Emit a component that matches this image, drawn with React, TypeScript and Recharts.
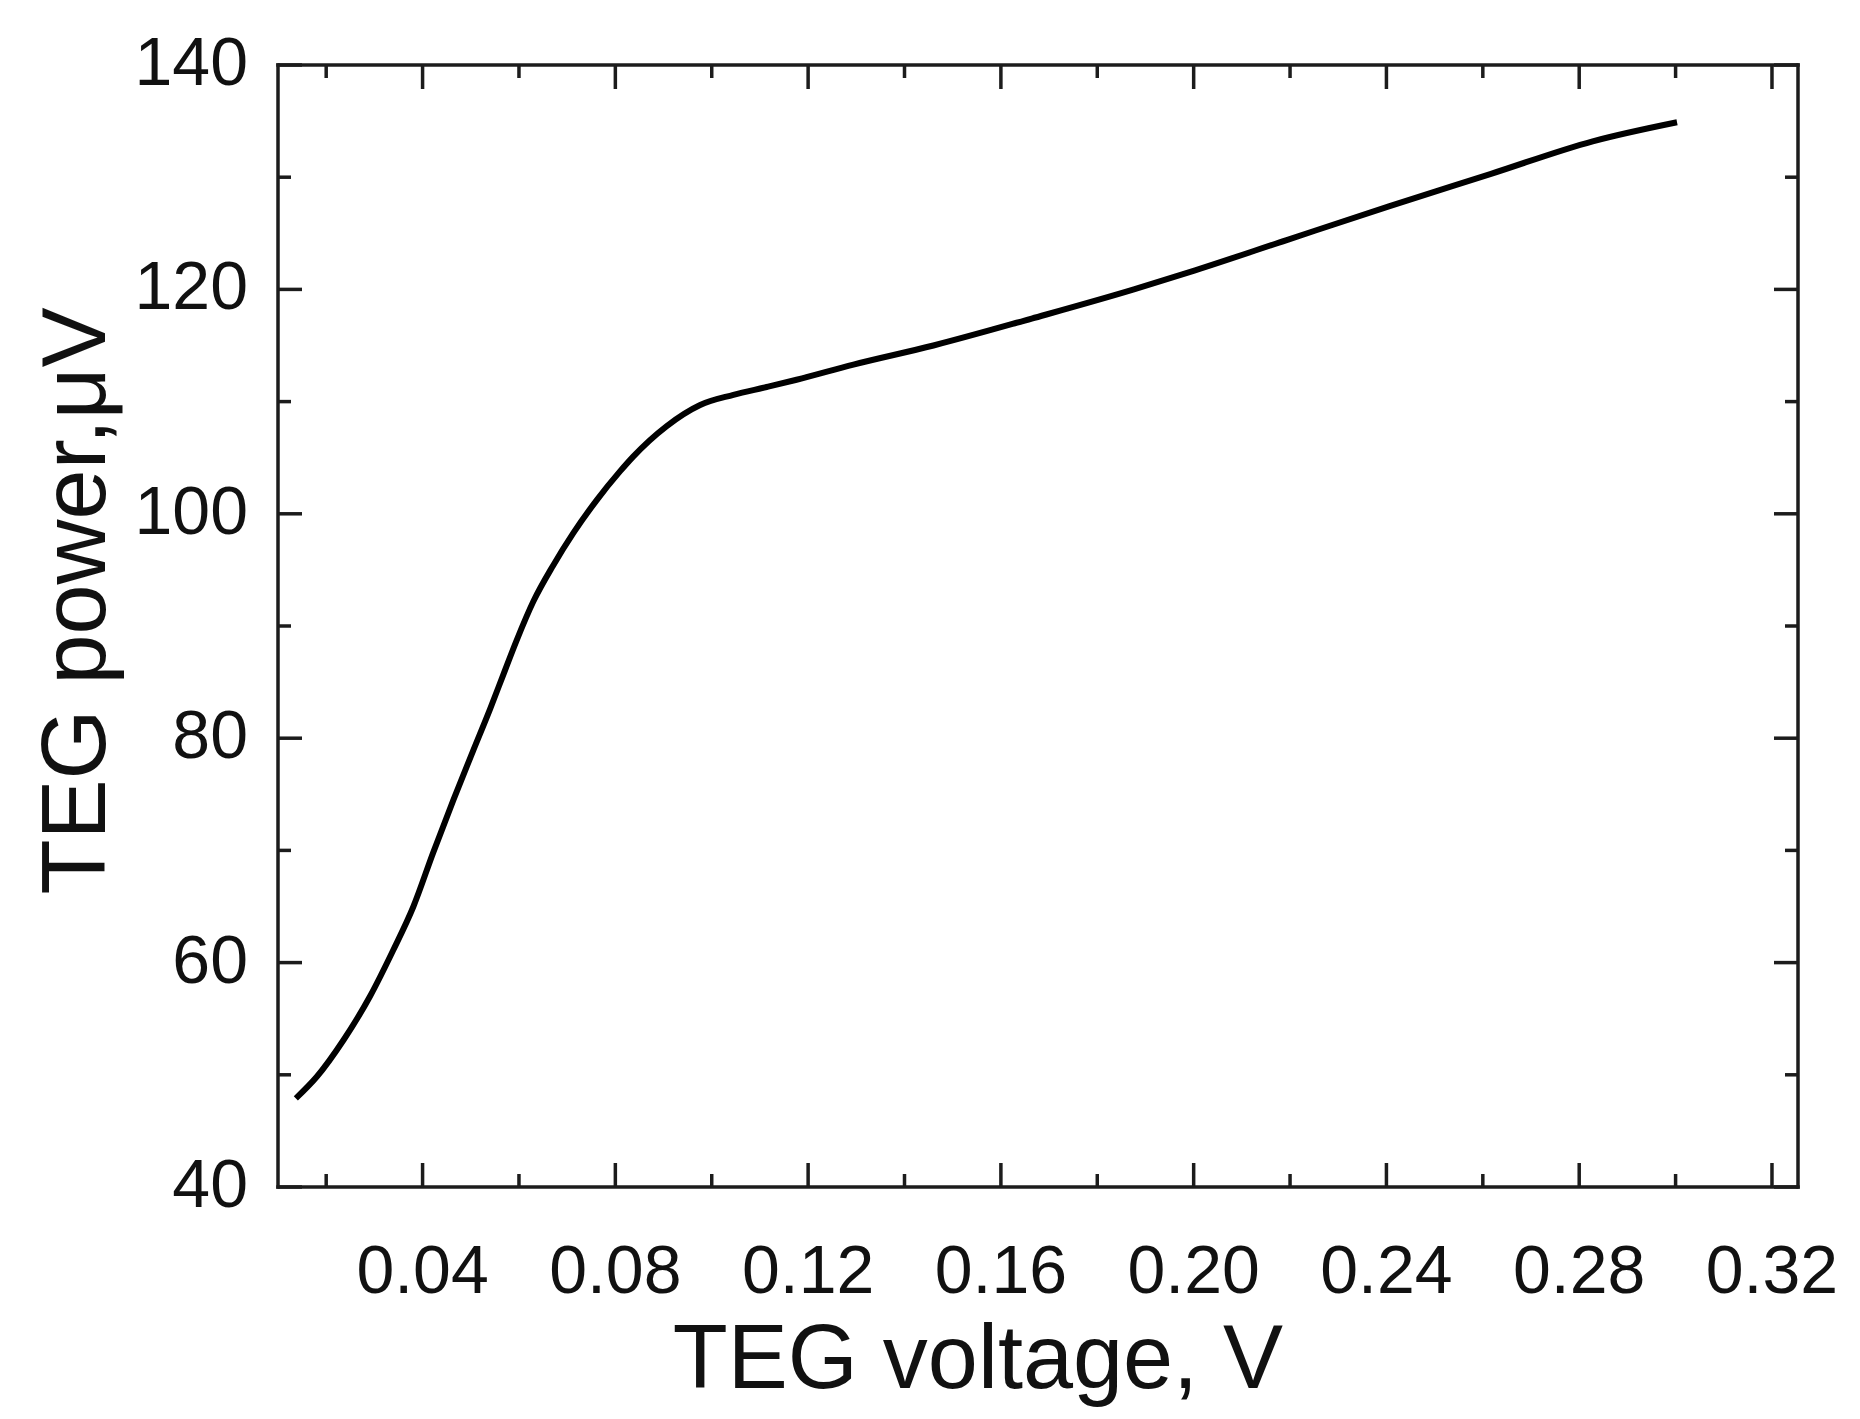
import React from 'react';
import { LineChart, Line, XAxis, YAxis } from 'recharts';

// TEG voltage (V)
const voltage = [
  0.0137, 0.018, 0.0236, 0.0291, 0.0339, 0.0381, 0.0422, 0.0464, 0.0505, 0.054,
  0.0567, 0.0595, 0.063, 0.0671, 0.0713, 0.0761, 0.081, 0.0837, 0.0906, 0.0976,
  0.1045, 0.1114, 0.1176, 0.1294, 0.146, 0.1664, 0.1876, 0.2003, 0.2193, 0.2405,
  0.2617, 0.2828, 0.3003,
];
// TEG power (µV as labelled)
const power = [
  47.9, 49.8, 53.1, 57.0, 61.1, 65.0, 69.8, 74.5, 78.9, 82.6,
  85.6, 88.7, 92.2, 95.4, 98.3, 101.2, 103.8, 105.1, 107.8, 109.7,
  110.6, 111.3, 111.95, 113.3, 115.0, 117.4, 120.0, 121.7, 124.4, 127.4,
  130.3, 133.2, 134.9,
];
const xTicks = [0.02, 0.04, 0.06, 0.08, 0.1, 0.12, 0.14, 0.16, 0.18, 0.2, 0.22, 0.24, 0.26, 0.28, 0.3, 0.32];
const yTicks = [40, 50, 60, 70, 80, 90, 100, 110, 120, 130, 140];
const xDomain = [0.01, 0.3254];
const yDomain = [40, 140];
const xTitle = 'TEG voltage, V';
const yTitle = 'TEG power,\u03BCV';

const data = voltage.map((v, i) => ({ v, p: power[i] }));

const FONT = '"Liberation Sans", Arial, Helvetica, sans-serif';
const AXIS_COLOR = '#1c1c1c';
const AXIS_W = 3.5;
const MAJOR = 24;
const MINOR = 13;
const TICK_FS = 68;
const TITLE_FS = 90;

const isMajorX = (v: number) => Math.round(v * 100) % 4 === 0;
const isMajorY = (v: number) => Math.round(v) % 20 === 0;

const BottomTick = (props: any) => {
  const { x, y, payload } = props;
  const major = isMajorX(payload.value);
  return (
    <g>
      <line x1={x} y1={y} x2={x} y2={y - (major ? MAJOR : MINOR)} stroke={AXIS_COLOR} strokeWidth={AXIS_W} />
      {major && (
        <text x={x} y={y + 106} textAnchor="middle" fontSize={TICK_FS} fontFamily={FONT} fill="#111">
          {Number(payload.value).toFixed(2)}
        </text>
      )}
    </g>
  );
};

const TopTick = (props: any) => {
  const { x, y, payload } = props;
  const major = isMajorX(payload.value);
  return <line x1={x} y1={y} x2={x} y2={y + (major ? MAJOR : MINOR)} stroke={AXIS_COLOR} strokeWidth={AXIS_W} />;
};

const LeftTick = (props: any) => {
  const { x, y, payload } = props;
  const major = isMajorY(payload.value);
  return (
    <g>
      <line x1={x} y1={y} x2={x + (major ? MAJOR : MINOR)} y2={y} stroke={AXIS_COLOR} strokeWidth={AXIS_W} />
      {major && (
        <text x={x - 30} y={y + 20} textAnchor="end" fontSize={TICK_FS} fontFamily={FONT} fill="#111">
          {payload.value}
        </text>
      )}
    </g>
  );
};

const RightTick = (props: any) => {
  const { x, y, payload } = props;
  const major = isMajorY(payload.value);
  return <line x1={x} y1={y} x2={x - (major ? MAJOR : MINOR)} y2={y} stroke={AXIS_COLOR} strokeWidth={AXIS_W} />;
};

const XTitle = (props: any) => {
  const vb = props.viewBox || { x: 278, y: 1187, width: 1520, height: 232 };
  return (
    <text x={vb.x + vb.width / 2 - 60} y={vb.y + 201} textAnchor="middle" fontSize={TITLE_FS} fontFamily={FONT} fill="#111">
      {xTitle}
    </text>
  );
};

const YTitle = (props: any) => {
  const vb = props.viewBox || { x: 78, y: 65, width: 200, height: 1122 };
  const cx = vb.x + 27;
  const cy = vb.y + vb.height / 2 - 25;
  return (
    <text x={cx} y={cy} transform={`rotate(-90, ${cx}, ${cy})`} textAnchor="middle" fontSize={TITLE_FS} fontFamily={FONT} fill="#111">
      {yTitle}
    </text>
  );
};

const axisLine = { stroke: AXIS_COLOR, strokeWidth: AXIS_W, strokeLinecap: 'square' as const };

export default function App() {
  return (
    <div style={{ position: 'absolute', left: 0, top: 0, width: 1860, height: 1419, background: '#fff' }}>
      <LineChart width={1860} height={1419} data={data} margin={{ top: 55, right: 52, bottom: 0, left: 78 }}>
        <XAxis
          xAxisId={0}
          dataKey="v"
          type="number"
          domain={xDomain}
          ticks={xTicks}
          interval={0}
          allowDataOverflow
          height={232}
          tickSize={0}
          tickMargin={0}
          tickLine={false}
          axisLine={axisLine}
          tick={<BottomTick />}
          label={<XTitle />}
        />
        <XAxis
          xAxisId="top"
          orientation="top"
          dataKey="v"
          type="number"
          domain={xDomain}
          ticks={xTicks}
          interval={0}
          allowDataOverflow
          height={10}
          tickSize={0}
          tickMargin={0}
          tickLine={false}
          axisLine={axisLine}
          tick={<TopTick />}
        />
        <YAxis
          yAxisId={0}
          type="number"
          domain={yDomain}
          ticks={yTicks}
          interval={0}
          allowDataOverflow
          width={200}
          tickSize={0}
          tickMargin={0}
          tickLine={false}
          axisLine={axisLine}
          tick={<LeftTick />}
          label={<YTitle />}
        />
        <YAxis
          yAxisId="right"
          orientation="right"
          type="number"
          domain={yDomain}
          ticks={yTicks}
          interval={0}
          allowDataOverflow
          width={10}
          tickSize={0}
          tickMargin={0}
          tickLine={false}
          axisLine={axisLine}
          tick={<RightTick />}
        />
        <Line
          xAxisId={0}
          yAxisId={0}
          dataKey="p"
          type="monotone"
          stroke="#000"
          strokeWidth={6}
          dot={false}
          activeDot={false}
          isAnimationActive={false}
        />
      </LineChart>
    </div>
  );
}
